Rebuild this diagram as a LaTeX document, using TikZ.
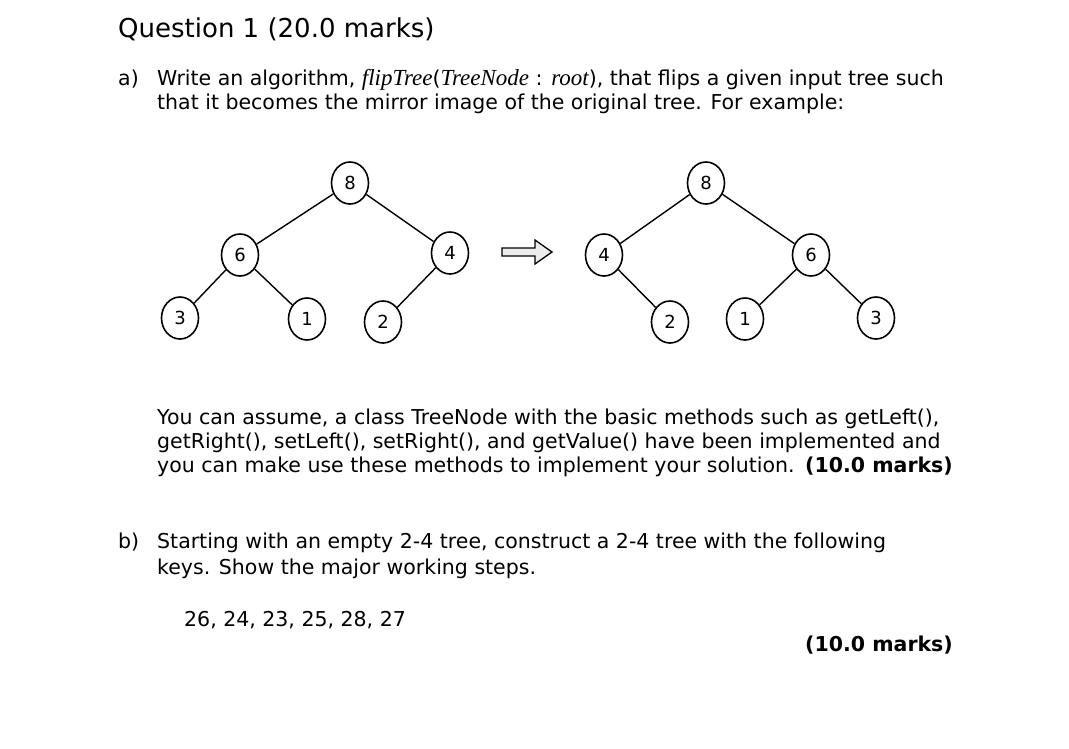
\documentclass[tikz,border=0pt]{standalone}
\usepackage{fontspec}
\usetikzlibrary{shapes.geometric}
\setmainfont{DejaVu Sans}
\newfontfamily\cmbit{Liberation Serif}
\begin{document}
\begin{tikzpicture}[x=1pt,y=-1pt,
  tn/.style={draw,line width=1.6pt,ellipse,minimum width=37,minimum height=42,inner sep=0pt,font=\fontsize{18}{18}\selectfont},
  tx/.style={anchor=base west,inner sep=0pt,font=\fontsize{20.5}{24}\selectfont},
  bx/.style={anchor=base east,inner sep=0pt,font=\fontsize{20.5}{24}\selectfont\bfseries},
  ed/.style={line width=1.4pt}]
\useasboundingbox (0,0) rectangle (1069,748);
\node[tx,font=\fontsize{26}{30}\selectfont] (q) at (118,37) {Question 1 (20.0 marks)};
\node[tx] (a1) at (118,85) {a)};
\node[tx] (a2) at (157,85) {Write an algorithm, {\cmbit\itshape\fontsize{23}{24}\selectfont flipTree}({\cmbit\itshape\fontsize{23}{24}\selectfont TreeNode} : {\cmbit\itshape\fontsize{23}{24}\selectfont root}), that flips a given input tree such};
\node[tx] (a3) at (157,109) {that it becomes the mirror image of the original tree. For example:};
% left tree
\node[tn] (l8) at (350,183) {8};
\node[tn] (l6) at (240,255) {6};
\node[tn] (l4) at (450,253) {4};
\node[tn] (l3) at (180,318) {3};
\node[tn] (l1) at (307,319) {1};
\node[tn] (l2) at (383,322) {2};
\draw[ed] (l8)--(l6) (l8)--(l4) (l6)--(l3) (l6)--(l1) (l4)--(l2);
% right tree
\node[tn] (r8) at (706,183) {8};
\node[tn] (r4) at (604,255) {4};
\node[tn] (r6) at (811,255) {6};
\node[tn] (r2) at (670,322) {2};
\node[tn] (r1) at (745,319) {1};
\node[tn] (r3) at (876,318) {3};
\draw[ed] (r8)--(r4) (r8)--(r6) (r4)--(r2) (r6)--(r1) (r6)--(r3);
% arrow
\draw[fill=gray!15,line width=1.3pt] (502,248)--(535,248)--(535,240)--(552,252)--(535,264)--(535,256)--(502,256)--cycle;
\node[tx] (b1) at (157,424) {You can assume, a class TreeNode with the basic methods such as getLeft(),};
\node[tx] (b2) at (157,448) {getRight(), setLeft(), setRight(), and getValue() have been implemented and};
\node[tx] (b3) at (157,472) {you can make use these methods to implement your solution.};
\node[bx] (m1) at (953,472) {(10.0 marks)};
\node[tx] (c1) at (118,548) {b)};
\node[tx] (c2) at (157,548) {Starting with an empty 2-4 tree, construct a 2-4 tree with the following};
\node[tx] (c3) at (157,574) {keys. Show the major working steps.};
\node[tx] (c4) at (184,626) {26, 24, 23, 25, 28, 27};
\node[bx] (m2) at (953,651) {(10.0 marks)};
\end{tikzpicture}
\end{document}
